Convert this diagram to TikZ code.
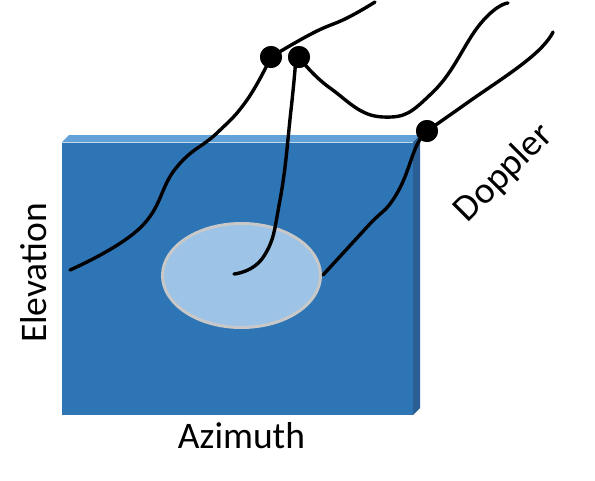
\documentclass[tikz,border=0pt]{standalone}
\usepackage{fontspec}
\setmainfont{Carlito}
\begin{document}
\begin{tikzpicture}[x=1pt,y=-1pt,
  wire/.style={line width=3.4pt,line cap=round,black},
  blob/.style={circle,fill=black,inner sep=0pt,minimum size=22pt},
  lbl/.style={font=\fontsize{37.5}{44}\selectfont,inner sep=0pt}]
\definecolor{frontc}{HTML}{2E75B6}
\definecolor{topc}{HTML}{62A0D8}
\definecolor{sidec}{HTML}{2A5E95}
\definecolor{ellc}{HTML}{9DC3E6}
\definecolor{ellb}{HTML}{C8C8C8}
\useasboundingbox (0,0) rectangle (595,480);
% box
\fill[frontc] (62,142) rectangle (413,415);
\fill[topc] (62,142) -- (69,135) -- (420,135) -- (413,142) -- cycle;
\draw[white!60!topc,line width=0.8pt] (62,142) -- (413,142);
\fill[sidec] (413,142) -- (420,135) -- (420,408) -- (413,415) -- cycle;
% ellipse
\draw[ellb,fill=ellc,line width=3pt] (241.5,275.5) ellipse [x radius=79pt,y radius=52pt];
% named points
\coordinate (e0) at (70,270);
\coordinate (c0) at (234,274);
\coordinate (c1) at (323,275);
\coordinate (t1) at (375,2);
\coordinate (t2) at (508,3);
\coordinate (t3) at (553,32);
\node[blob] (d1) at (271,57) {};
\node[blob] (d2) at (299,57) {};
\node[blob] (d3) at (427,131) {};
% wires
\draw[wire] plot[smooth,tension=0.75] coordinates {(e0) (140,228) (176,168) (217,133) (247,100) (d1.center)};
\draw[wire] plot[smooth,tension=0.8] coordinates {(d1.center) (313,33) (347,18) (t1)};
\draw[wire] plot[smooth,tension=0.8] coordinates {(c0) (264,256) (280,200) (291,110) (296,57)};
\draw[wire] plot[smooth,tension=0.8] coordinates {(d2.center) (330,88) (383,117) (433,92) (481,23) (t2)};
\draw[wire] plot[smooth,tension=0.8] coordinates {(c1) (367,227) (396,195) (417,145) (d3.center)};
\draw[wire] plot[smooth,tension=0.8] coordinates {(d3.center) (467,103) (530,58) (t3)};
% dots on top
\fill (d1) circle (11pt);
\fill (d2) circle (11pt);
\fill (d3) circle (11pt);
% labels
\node[lbl,anchor=base] (az) at (241.5,448) {Azimuth};
\node[lbl,anchor=base,rotate=90] (el) at (46,273) {Elevation};
\node[lbl,rotate=45] (dp) at (504,173) {Doppler};
\end{tikzpicture}
\end{document}
